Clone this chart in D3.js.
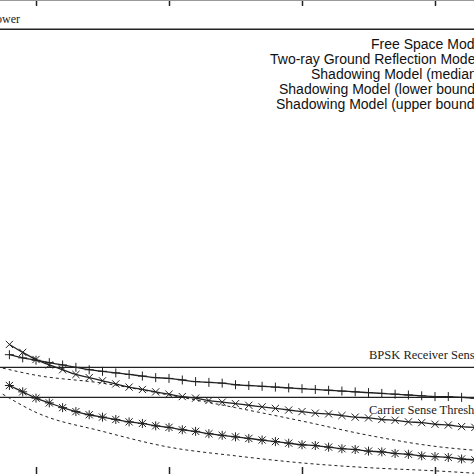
<!DOCTYPE html>
<html><head><meta charset="utf-8">
<script src="https://cdn.jsdelivr.net/npm/d3@7"></script>
<style>body{margin:0;background:#fff}svg{display:block}</style></head>
<body><svg id="c" width="474" height="474"></svg>
<script>
const distances = d3.range(80, 431, 10);
const freeSpace = [-84.9,-85.3,-85.6,-85.9,-86.2,-86.5,-86.8,-87.0,-87.2,-87.4,-87.6,-87.8,-87.9,-88.1,-88.3,-88.4,-88.5,-88.7,-88.8,-88.9,-89.0,-89.1,-89.2,-89.3,-89.4,-89.5,-89.6,-89.7,-89.8,-89.9,-90.0,-90.1,-90.2,-90.2,-90.3,-90.4];
const twoRay = [-83.6,-84.6,-85.5,-86.2,-86.8,-87.4,-87.8,-88.2,-88.6,-89.0,-89.3,-89.6,-89.9,-90.2,-90.4,-90.7,-90.9,-91.1,-91.3,-91.5,-91.7,-91.9,-92.1,-92.3,-92.4,-92.6,-92.8,-92.9,-93.1,-93.2,-93.4,-93.5,-93.7,-93.8,-94.0,-94.1];
const shadowMedian = [-88.8,-89.6,-90.4,-91.0,-91.6,-92.1,-92.5,-92.8,-93.1,-93.4,-93.6,-93.9,-94.1,-94.4,-94.6,-94.9,-95.1,-95.3,-95.5,-95.7,-95.9,-96.1,-96.3,-96.4,-96.6,-96.8,-96.9,-97.1,-97.2,-97.4,-97.5,-97.7,-97.8,-97.9,-98.1,-98.2];
const boundDist = [75,100,150,200,250,300,350,400,430];
const shadowUpper = [-86.6,-87.5,-88.5,-90.0,-91.6,-93.3,-95.1,-96.5,-97.0];
const shadowLower = [-89.9,-92.2,-94.6,-96.6,-97.7,-98.6,-99.2,-99.6,-99.9];
const transmitPower = -43.7, bpskSens = -86.5, csThresh = -90.3;
const xTicks = [100,200,300,400];
const legendLabels = ["Free Space Model","Two-ray Ground Reflection Model","Shadowing Model (median)","Shadowing Model (lower bound)","Shadowing Model (upper bound)"];

const svg = d3.select("#c");
const x = d3.scaleLinear().domain([100,400]).range([36,435]);
const y = d3.scaleLinear().domain([-40,-100]).range([0,474]);
const col = "#222";

svg.append("g").call(d3.axisBottom(x).tickValues(xTicks).tickSize(6).tickFormat(""))
  .call(g=>{g.select(".domain").remove();g.selectAll("line").attr("stroke",col).attr("stroke-width",1.5);});
svg.append("g").attr("transform","translate(0,474)").call(d3.axisTop(x).tickValues(xTicks).tickSize(7).tickFormat(""))
  .call(g=>{g.select(".domain").remove();g.selectAll("line").attr("stroke",col).attr("stroke-width",1.5);});
svg.append("line").attr("x1",0).attr("x2",474).attr("y1",0.5).attr("y2",0.5).attr("stroke","#999");

[transmitPower,bpskSens,csThresh].forEach(v=>{
  svg.append("line").attr("x1",0).attr("x2",474).attr("y1",y(v)).attr("y2",y(v)).attr("stroke",col).attr("stroke-width",1.3);
});
const serif = "Liberation Serif, Times New Roman, serif";
svg.append("text").attr("x",20).attr("y",y(transmitPower)-6).attr("text-anchor","end").attr("font-family",serif).attr("font-size",12).attr("fill",col).text("Transmit Power");
svg.append("text").attr("x",369).attr("y",y(bpskSens)-8).attr("font-family",serif).attr("font-size",12.5).attr("fill",col).text("BPSK Receiver Sensitivity");
svg.append("text").attr("x",369).attr("y",y(csThresh)+17).attr("font-family",serif).attr("font-size",12.5).attr("fill",col).text("Carrier Sense Threshold");

const sans = "Liberation Sans, Arial, sans-serif";
const lx = [371,270,311,279,276], ly=[49,64,79,94,109];
legendLabels.forEach((t,i)=>svg.append("text").attr("x",lx[i]).attr("y",ly[i]).attr("font-family",sans).attr("font-size",14).attr("fill","#111").text(t));

const line = d3.line().x(d=>x(d[0])).y(d=>y(d[1])).curve(d3.curveMonotoneX);
function drawSeries(ds, vs, dash){
  svg.append("path").datum(ds.map((d,i)=>[d,vs[i]])).attr("d",line).attr("fill","none")
   .attr("stroke",col).attr("stroke-width",dash?1:1.3).attr("stroke-dasharray",dash?"3,3":null);
}
drawSeries(boundDist, shadowUpper, true);
drawSeries(boundDist, shadowLower, true);
drawSeries(distances, freeSpace);
drawSeries(distances, twoRay);
drawSeries(distances, shadowMedian);

function markers(vs, type){
  const s=4.5;
  const g=svg.append("g").attr("stroke",col).attr("stroke-width",1);
  distances.forEach((d,i)=>{
    const cx=x(d), cy=y(vs[i]);
    let p="";
    if(type==="+"||type==="*") p+=`M${cx-s},${cy}H${cx+s}M${cx},${cy-s}V${cy+s}`;
    if(type==="x"||type==="*") p+=`M${cx-s*0.8},${cy-s*0.8}L${cx+s*0.8},${cy+s*0.8}M${cx-s*0.8},${cy+s*0.8}L${cx+s*0.8},${cy-s*0.8}`;
    g.append("path").attr("d",p);
  });
}
markers(freeSpace,"+");
markers(twoRay,"x");
markers(shadowMedian,"*");
</script></body></html>
